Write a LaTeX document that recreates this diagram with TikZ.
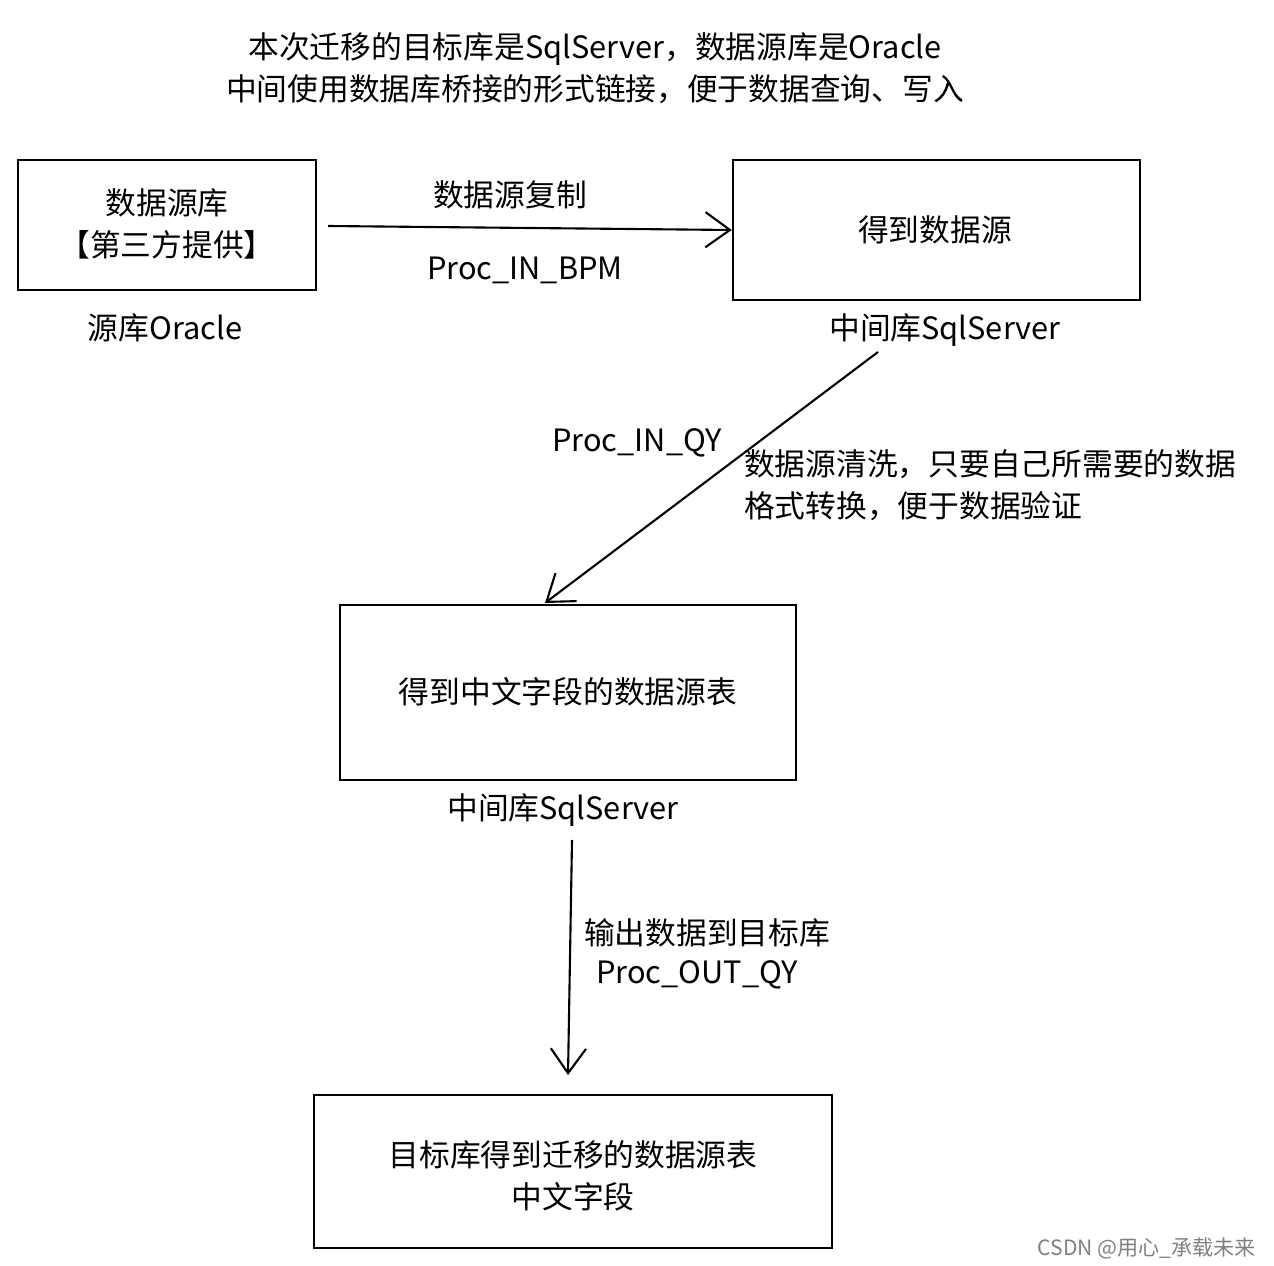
\documentclass[tikz,border=0pt]{standalone}
\usepackage{fontspec}
\setmainfont{Noto Sans CJK SC}
\usetikzlibrary{arrows.meta}
\begin{document}
\begin{tikzpicture}[x=0.02cm,y=-0.02cm,
  box/.style={draw,line width=1.4pt,inner sep=0},
  txt/.style={font=\fontsize{17.5}{24}\selectfont,align=center},
  arr/.style={line width=1.2pt,-{Straight Barb[length=14pt,width=20pt]}}]
\useasboundingbox (0,0) rectangle (1274,1266);
\node[txt] (title) at (595,68) {本次迁移的目标库是SqlServer，数据源库是Oracle\\中间使用数据库桥接的形式链接，便于数据查询、写入};
\node[box,minimum width=5.96cm,minimum height=2.6cm] (b1) at (167,225) {};
\node[box,minimum width=8.14cm,minimum height=2.8cm] (b2) at (936.5,230) {};
\node[box,minimum width=9.12cm,minimum height=3.5cm] (b3) at (568,692.5) {};
\node[box,minimum width=10.36cm,minimum height=3.06cm] (b4) at (573,1171.5) {};
\coordinate (b1e) at (328,226);
\coordinate (b2s) at (878,352);
\coordinate (b3n) at (545,603);
\coordinate (b3s) at (572,840);
\coordinate (b4n) at (568,1075);
\node[txt] (t1) at (167,224) {数据源库\\【第三方提供】};
\node[txt] (l1) at (165,328) {源库Oracle};
\node[txt] (t2) at (935,230) {得到数据源};
\node[txt] (l2) at (945,330) {中间库SqlServer};
\node[txt] (t3) at (568,692) {得到中文字段的数据源表};
\node[txt] (l3) at (563,810) {中间库SqlServer};
\node[txt] (t4) at (573,1176) {目标库得到迁移的数据源表\\中文字段};
\draw[arr] (b1e) -- (b2.west);
\draw[arr] (b2s) -- (b3n);
\draw[arr] (b3s) -- (b4n);
\node[txt] (a1) at (510,195) {数据源复制};
\node[txt] (a1b) at (525,270) {Proc\_IN\_BPM};
\node[txt] (a2) at (637,443) {Proc\_IN\_QY};
\node[txt,align=left,anchor=north west] (a2b) at (738,443) {数据源清洗，只要自己所需要的数据\\格式转换，便于数据验证};
\node[txt,align=left,anchor=west] (a3) at (578,933) {输出数据到目标库};
\node[txt,align=left,anchor=west] (a3b) at (590,975) {Proc\_OUT\_QY};
\node[font=\fontsize{12}{14}\selectfont,text=gray,anchor=east] (w) at (1262,1248) {CSDN @用心\_承载未来};
\end{tikzpicture}
\end{document}
